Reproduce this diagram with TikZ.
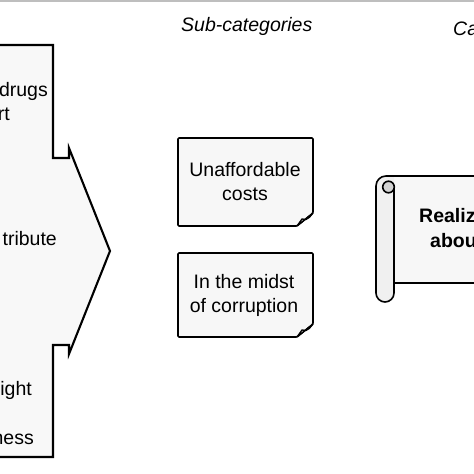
\documentclass[tikz,border=0pt]{standalone}
\usepackage{fontspec}
\setmainfont{Liberation Sans}
\definecolor{topbar}{HTML}{BEBEBE}
\definecolor{shapefill}{HTML}{F8F8F8}
\definecolor{notefill}{HTML}{F7F7F7}
\definecolor{sheetfill}{HTML}{F7F7F7}
\definecolor{rollfill}{HTML}{F0F0F0}
\definecolor{curlfill}{HTML}{D2D2D2}
\begin{document}
\begin{tikzpicture}[x=1pt,y=1pt,
  outline/.style={draw=black,line width=2.1pt,line join=miter,miter limit=20},
  notebox/.style={draw=black,line width=1.6pt,fill=notefill,line join=round,rounded corners=1pt},
  flap/.style={draw=black,line width=1.3pt,fill=white,line join=round},
  scrollline/.style={draw=black,line width=1.6pt,line join=round},
  txt/.style={font=\fontsize{19.5}{24}\selectfont,align=center,inner sep=0pt},
  head/.style={font=\fontsize{19.5}{24}\selectfont\itshape,inner sep=0pt},
  ]
\useasboundingbox (0,0) rectangle (474,474);
\clip (0,0) rectangle (474,474);
\fill[white] (0,0) rectangle (474,474);
\fill[topbar] (0,471.5) rectangle (474,474);

% headings
\node[head,anchor=base west] (subcat) at (181,442) {Sub-categories};
\node[head,anchor=base west] (cat) at (453,438) {Categories};

% left chevron shape
\draw[outline,fill=shapefill] (-10,429) -- (53,429) -- (53,316) -- (69,316) -- (69,326)
  -- (110,223) -- (69,120) -- (69,129) -- (53,129) -- (53,17) -- (-10,17) -- cycle;
\node[txt,anchor=base east] (l1) at (48,377) {drugs};
\node[txt,anchor=base east] (l2) at (10,353) {rt};
\node[txt,anchor=base east] (l3) at (57,228) {tribute};
\node[txt,anchor=base east] (l4) at (32,78) {ight};
\node[txt,anchor=base east] (l5) at (34,29) {ness};

% note 1
\draw[notebox] (178,336) -- (313,336) -- (313,261) -- (297,248) -- (178,248) -- cycle;
\draw[flap] (297,248) -- (302,255) -- (306,254.5) .. controls (309,256) .. (313,261) -- cycle;
\node[txt] (n1) at (245,292) {Unaffordable\\costs};

% note 2
\draw[notebox] (178,221) -- (313,221) -- (313,150) -- (297,137) -- (178,137) -- cycle;
\draw[flap] (297,137) -- (302,144) -- (306,143.5) .. controls (309,145) .. (313,150) -- cycle;
\node[txt] (n2) at (244,179) {In the midst\\of corruption};

% scroll
\draw[scrollline,fill=sheetfill] (394,298) -- (480,298) -- (480,191) -- (394,191);
\fill[rollfill] (376,288) arc[start angle=180,end angle=90,radius=10] -- (394,298) -- (394,181)
  arc[start angle=0,end angle=-180,radius=9] -- cycle;
\draw[scrollline] (394,286.5) -- (394,181) arc[start angle=0,end angle=-180,radius=9]
  -- (376,288) arc[start angle=180,end angle=90,radius=10] -- (480,298);
\draw[scrollline,fill=curlfill] (388.5,287) circle[radius=5.8];
\node[txt,font=\fontsize{19.5}{24}\selectfont\bfseries,anchor=base west] (s1) at (419,251) {Realization};
\node[txt,font=\fontsize{19.5}{24}\selectfont\bfseries,anchor=base west] (s2) at (430,226) {about};
\end{tikzpicture}
\end{document}
